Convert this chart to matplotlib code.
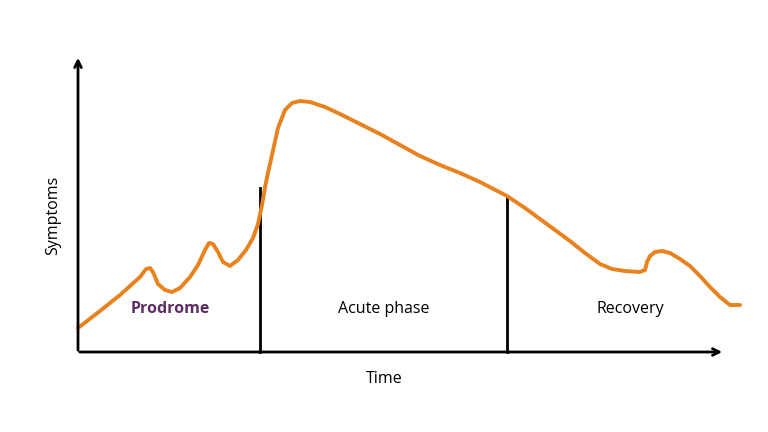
import matplotlib
matplotlib.use("Agg")
import matplotlib.pyplot as plt

curve_x = [78,100,120,140,146,150,153,158,165,172,180,190,198,205,209,213,218,223,230,238,246,253,258,262,266,272,278,285,292,300,310,325,340,360,380,400,420,440,460,480,507,525,540,555,570,585,600,612,625,640,645,647,650,655,662,670,680,690,700,710,720,730,740]
curve_y = [328,311,295,277,269,268,272,284,290,292,288,277,265,250,243,244,252,262,266,260,250,238,224,205,182,155,128,110,103,101,102,107,114,124,134,145,156,165,173,182,196,208,219,230,241,253,264,269,271,272,270,262,256,252,251,253,259,266,276,287,297,305,305]

phase_x = [260, 507]
phase_top = [188, 197]
labels = ["Prodrome", "Acute phase", "Recovery"]
label_x = [170, 384, 630]

fig = plt.figure(figsize=(7.68, 4.32), dpi=100)
ax = fig.add_axes([0, 0, 1, 1])
ax.set_xlim(0, 768); ax.set_ylim(432, 0); ax.axis("off")

ax.annotate("", xy=(78, 55), xytext=(78, 353),
            arrowprops=dict(arrowstyle="->", lw=2, color="black", mutation_scale=12))
ax.annotate("", xy=(725, 352), xytext=(77, 352),
            arrowprops=dict(arrowstyle="->", lw=2, color="black", mutation_scale=12))
for x, t in zip(phase_x, phase_top):
    ax.plot([x, x], [352, t], color="black", lw=2)
ax.plot(curve_x, curve_y, color="#e8821e", lw=2.8, solid_capstyle="round", solid_joinstyle="round")

for i, (l, x) in enumerate(zip(labels, label_x)):
    if i == 0:
        ax.text(x, 309, l, ha="center", va="center", fontsize=11.5, fontweight="bold",
                color="#5b2d62", family="Open Sans")
    else:
        ax.text(x, 309, l, ha="center", va="center", fontsize=11.5, color="black", family="Open Sans")
ax.text(384, 379, "Time", ha="center", va="center", fontsize=11.5, family="Open Sans")
ax.text(53, 215, "Symptoms", ha="center", va="center", fontsize=11.5, rotation=90, family="Open Sans")

fig.savefig("out.png", dpi=100)
